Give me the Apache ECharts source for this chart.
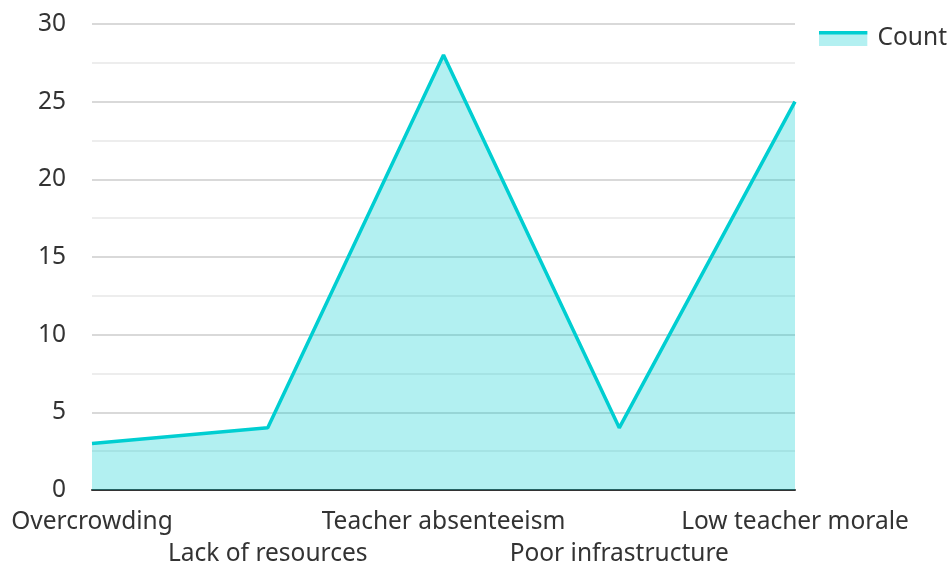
<!DOCTYPE html>
<html>
<head>
<meta charset="utf-8">
<script src="https://cdn.jsdelivr.net/npm/echarts@6/dist/echarts.min.js"></script>
<style>
  html, body { margin: 0; padding: 0; background: #fff; }
  #chart { width: 952px; height: 562px; }
</style>
</head>
<body>
<div id="chart"></div>
<script>
var categories = ['Overcrowding', 'Lack of resources', 'Teacher absenteeism', 'Poor infrastructure', 'Low teacher morale']
var counts = [3, 4, 28, 4, 25]
var seriesName = 'Count'

var chart = echarts.init(document.getElementById('chart'))

// legend icon: line on top of a light area rect
var iconSvg = '<svg xmlns="http://www.w3.org/2000/svg" width="49" height="15" viewBox="0 0 49 15">'
    + '<rect x="0" y="0" width="49" height="15" fill="rgb(179,240,241)"/>'
    + '<rect x="0" y="0" width="49" height="3.5" fill="#00CED1"/></svg>'
var legendIcon = 'image://data:image/svg+xml;charset=utf-8,' + encodeURIComponent(iconSvg)

var option = {
    backgroundColor: '#fff',
    textStyle: { fontFamily: 'Noto Sans' },
    legend: {
        data: [{ name: seriesName, icon: legendIcon }],
        right: 0,
        top: 21,
        itemWidth: 49,
        itemHeight: 15,
        itemGap: 10,
        textStyle: { fontSize: 24.5, color: '#333', fontFamily: 'Noto Sans', padding: [0, 0, 0, 5] }
    },
    grid: {
        left: 92,
        right: 157,
        top: 24,
        bottom: 72,
        outerBoundsMode: 'none',
        containLabel: false
    },
    xAxis: {
        type: 'category',
        data: categories,
        boundaryGap: false,
        axisTick: { show: false },
        axisLine: { lineStyle: { color: '#333', width: 2 } },
        axisLabel: {
            interval: 0,
            fontSize: 24.5,
            color: '#333',
            margin: 16,
            lineHeight: 32,
            formatter: function (val, i) {
                return i % 2 === 1 ? '\n' + val : val
            }
        }
    },
    yAxis: {
        type: 'value',
        min: 0,
        max: 30,
        interval: 5,
        axisLine: { show: false },
        axisTick: { show: false },
        axisLabel: { fontSize: 24.5, color: '#333', margin: 26 },
        splitLine: { lineStyle: { color: '#ccc', width: 1.5 } },
        minorTick: { show: false, splitNumber: 2 },
        minorSplitLine: { show: true, lineStyle: { color: '#e8e8e8', width: 1.5 } }
    },
    series: [{
        name: seriesName,
        type: 'line',
        data: counts,
        showSymbol: false,
        symbol: 'none',
        lineStyle: { color: '#00CED1', width: 3.5 },
        itemStyle: { color: '#00CED1' },
        areaStyle: { color: '#00CED1', opacity: 0.3 }
    }]
}

chart.setOption(option)
</script>
</body>
</html>
